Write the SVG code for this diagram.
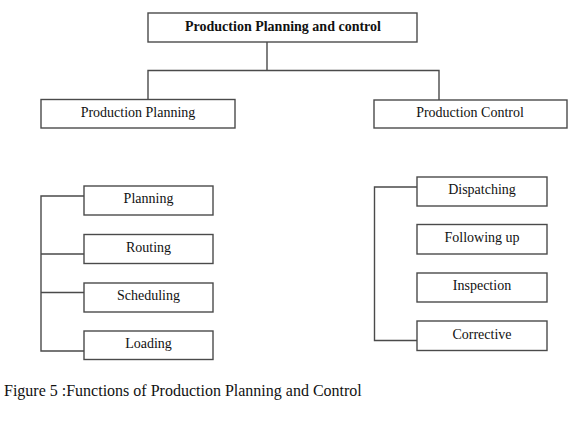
<svg xmlns="http://www.w3.org/2000/svg" width="575" height="422" viewBox="0 0 575 422">
<style>
.box{fill:#fff;stroke:#4a4a4a;stroke-width:1.4}
.lbl{font-family:"Liberation Serif","Times New Roman",serif;font-size:14px;fill:#111;text-anchor:middle}
.b{font-weight:bold}
.con{fill:none;stroke:#4a4a4a;stroke-width:1.4}
.cap{font-family:"Liberation Serif","Times New Roman",serif;font-size:16px;fill:#111}
</style>
<rect width="575" height="422" fill="#fff"/>
<g id="connectors">
<path class="con" d="M267 42V70.5M148 99V70.5H439V100"/>
<path class="con" d="M84 196H41V351H84M41 254H84M41 292.5H84"/>
<path class="con" d="M417 187H374.5V340.5H417"/>
</g>
<g id="ppc"><rect class="box" x="148" y="13" width="269" height="29"/><text class="lbl b" x="283" y="30.5">Production Planning and control</text></g>
<g id="pp"><rect class="box" x="41" y="99.5" width="194" height="28.5"/><text class="lbl" x="138" y="117">Production Planning</text></g>
<g id="pc"><rect class="box" x="374" y="100" width="193" height="28"/><text class="lbl" x="470" y="117">Production Control</text></g>
<g id="planning"><rect class="box" x="84" y="186" width="129" height="29"/><text class="lbl" x="148.5" y="203">Planning</text></g>
<g id="routing"><rect class="box" x="84" y="234.5" width="129" height="29"/><text class="lbl" x="148.5" y="251.5">Routing</text></g>
<g id="scheduling"><rect class="box" x="84" y="283" width="129" height="29"/><text class="lbl" x="148.5" y="300">Scheduling</text></g>
<g id="loading"><rect class="box" x="84" y="331" width="129" height="28.5"/><text class="lbl" x="148.5" y="348">Loading</text></g>
<g id="dispatching"><rect class="box" x="417" y="177" width="130" height="29"/><text class="lbl" x="482" y="194">Dispatching</text></g>
<g id="following"><rect class="box" x="417" y="224.5" width="130" height="29.5"/><text class="lbl" x="482" y="242">Following up</text></g>
<g id="inspection"><rect class="box" x="417" y="273" width="130" height="29"/><text class="lbl" x="482" y="290">Inspection</text></g>
<g id="corrective"><rect class="box" x="417" y="321" width="130" height="29.5"/><text class="lbl" x="482" y="338.5">Corrective</text></g>
<text class="cap" x="4" y="396">Figure 5 :Functions of Production Planning and Control</text>
</svg>
